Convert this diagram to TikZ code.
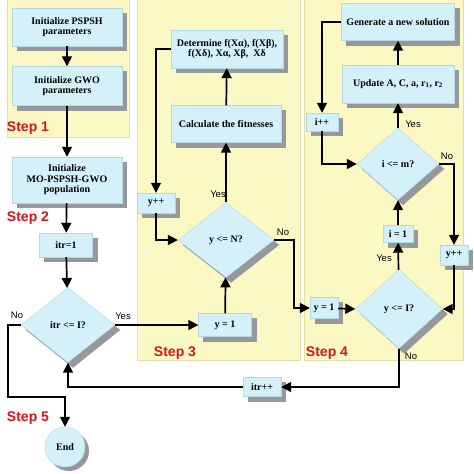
\documentclass[tikz,border=0pt]{standalone}
\usepackage{fontspec}
\setmainfont{Liberation Serif}
\newfontfamily\labelfont{Liberation Sans}
\usetikzlibrary{shapes.geometric,arrows.meta,calc}
\pgfdeclarelayer{background}
\pgfsetlayers{background,main}
\definecolor{panelfill}{HTML}{FCF8C4}
\definecolor{panelline}{HTML}{E4DEA8}
\definecolor{boxfill}{HTML}{D4F1F9}
\definecolor{boxline}{HTML}{B4D8E2}
\definecolor{shadowtone}{RGB}{150,152,156}
\definecolor{steptext}{HTML}{D8141C}
\tikzset{
  procbox/.style={draw=boxline, fill=boxfill, align=center, inner sep=1pt,
    font=\fontsize{10}{10.5}\selectfont\bfseries},
  testbox/.style={procbox, shape=diamond, inner sep=0pt},
  shadowfill/.style={fill=shadowtone},
  steplabel/.style={text=steptext, font=\labelfont\fontsize{14}{14}\selectfont\bfseries},
  answer/.style={font=\labelfont\fontsize{9.5}{9.5}\selectfont, inner sep=0pt},
  flow/.style={line width=1.7pt, -{Triangle[length=10pt,width=10pt]}}
}
\begin{document}
\begin{tikzpicture}[x=1pt, y=-1pt]
            \useasboundingbox (0,0) rectangle (474,474);

            \node[procbox, minimum width=110pt, minimum height=38pt] (InitP) at (67,27) {Initialize PSPSH\\parameters};
            \node[procbox, minimum width=110pt, minimum height=39pt] (InitG) at (67,86) {Initialize GWO\\parameters};
            \node[procbox, minimum width=110pt, minimum height=46pt] (Pop) at (67,180) {Initialize\\MO-PSPSH-GWO\\population};
            \node[procbox, minimum width=53pt, minimum height=24pt] (ItrOne) at (66,245) {itr=1};
            \node[testbox, minimum width=94pt, minimum height=75pt] (ItrTest) at (68,325) {itr <= I?};
            \node[procbox, shape=circle, minimum size=40pt] (End) at (65,447) {End};

            \node[procbox, minimum width=112pt, minimum height=38pt] (Det) at (227,49) {Determine f(Xα), f(Xβ),\\f(Xδ), Xα, Xβ,\ \ Xδ};
            \node[procbox, minimum width=110pt, minimum height=37pt] (Fit) at (226,124) {Calculate the fitnesses};
            \node[procbox, minimum width=38pt, minimum height=20pt] (YIncA) at (156,203) {y++};
            \node[testbox, minimum width=96pt, minimum height=75pt] (NTest) at (226,240) {y <= N?};
            \node[procbox, minimum width=53pt, minimum height=23pt] (YOneA) at (225,325) {y = 1};

            \node[procbox, minimum width=113pt, minimum height=37pt] (Gen) at (398,22) {Generate a new solution};
            \node[procbox, minimum width=112pt, minimum height=38pt] (Upd) at (398,84) {Update A, C, a, r\textsubscript{1}, r\textsubscript{2}};
            \node[procbox, minimum width=32pt, minimum height=18pt] (IInc) at (322,122) {i++};
            \node[testbox, minimum width=82pt, minimum height=72pt] (ITest) at (398,164) {i <= m?};
            \node[procbox, minimum width=30pt, minimum height=17pt] (IOne) at (398,234) {i = 1};
            \node[procbox, minimum width=28pt, minimum height=20pt] (YIncB) at (454,255) {y++};
            \node[procbox, minimum width=28pt, minimum height=21pt] (YOneB) at (324,308) {y = 1};
            \node[testbox, minimum width=87pt, minimum height=79pt] (YTest) at (399,309) {y <= I?};
            \node[procbox, minimum width=38pt, minimum height=19pt] (ItrInc) at (262,387) {itr++};

            \begin{pgfonlayer}{background}
            \fill[white] (0,0) rectangle (474,474);
            \draw[panelline, fill=panelfill] (7,-2) rectangle (129,137);
            \draw[panelline, fill=panelfill] (137,-2) rectangle (300,360);
            \draw[panelline, fill=panelfill] (304,-2) rectangle (463,360);
            \foreach \b in {InitP,InitG,Pop,ItrOne,Det,Fit,YIncA,YOneA,Gen,Upd,IInc,IOne,YIncB,YOneB,ItrInc}
              \fill[shadowfill] ($(\b.south west)+(5,5)$) rectangle ($(\b.north east)+(5,5)$);
            \foreach \d in {ItrTest,NTest,ITest,YTest}
              \fill[shadowfill] ($(\d.north)+(5,5)$) -- ($(\d.east)+(5,5)$)
                -- ($(\d.south)+(5,5)$) -- ($(\d.west)+(5,5)$) -- cycle;
            \fill[shadowfill] ($(End.center)+(4,4)$) circle[radius=20];
            \end{pgfonlayer}

            \node[steplabel] (StepA) at (28,128) {Step 1};
            \node[steplabel] (StepB) at (28,218) {Step 2};
            \node[steplabel] (StepC) at (175,353) {Step 3};
            \node[steplabel] (StepD) at (327,353) {Step 4};
            \node[steplabel] (StepE) at (28,418) {Step 5};

            \node[answer] (NoA) at (17,315) {No};
            \node[answer] (YesA) at (123,316) {Yes};
            \node[answer] (YesB) at (218,194) {Yes};
            \node[answer] (NoB) at (283,232) {No};
            \node[answer] (YesC) at (384,258) {Yes};
            \node[answer] (NoC) at (411,356) {No};
            \node[answer] (YesD) at (413,124) {Yes};
            \node[answer] (NoD) at (447,156) {No};

            \coordinate (NoTurnA) at (8,325);
            \coordinate (NoTurnB) at (8,397);
            \coordinate (NTurn) at (294,240);

            \draw[flow] (InitP) -- (InitG);
            \draw[flow] (InitG) -- (Pop);
            \draw[flow] (Pop) -- (ItrOne);
            \draw[flow] (ItrOne) -- (ItrTest);
            \draw[flow] (ItrTest.east) -- (YOneA);
            \draw[flow] (YOneA) -- (NTest);
            \draw[flow] (NTest) -- (Fit);
            \draw[flow] (Fit) -- (Det);
            \draw[flow] (Det.west) -| (YIncA);
            \draw[flow] (YIncA) |- (NTest.west);
            \draw[flow] (NTest.east) -- (NTurn) |- (YOneB);
            \draw[flow] (YOneB) -- (YTest.west);
            \draw[flow] (YTest) -- (IOne);
            \draw[flow] (IOne) -- (ITest);
            \draw[flow] (ITest) -- (Upd);
            \draw[flow] (Upd) -- (Gen);
            \draw[flow] (Gen.west) -| (IInc);
            \draw[flow] (IInc) |- (ITest.west);
            \draw[flow] (ITest.east) -| (YIncB);
            \draw[flow] (YIncB) |- (YTest.east);
            \draw[flow] (YTest.south) |- (ItrInc.east);
            \draw[flow] (ItrInc.west) -| (ItrTest.south);
            \draw[flow] (ItrTest.west) -- (NoTurnA) -- (NoTurnB) -| (End);
\end{tikzpicture}
\end{document}
